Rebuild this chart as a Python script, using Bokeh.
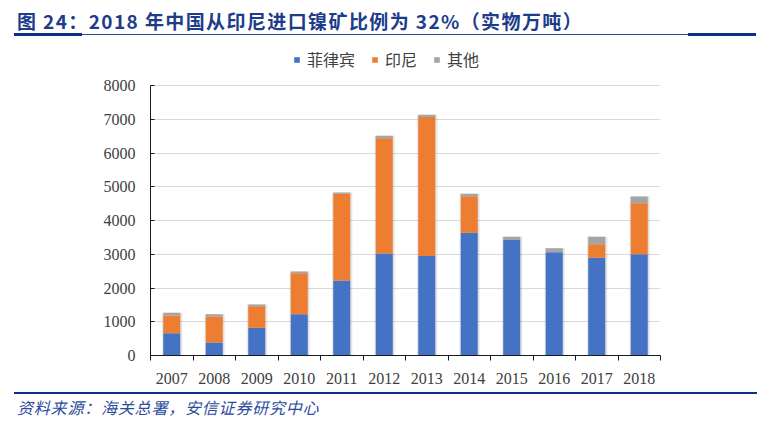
from bokeh.plotting import figure
from bokeh.layouts import column
from bokeh.models import (Range1d, LinearAxis, FixedTicker, Legend, LegendItem,
                          ColumnDataSource, Div)
from bokeh.embed import file_html
from bokeh.resources import INLINE

# Nickel ore imports into China by origin (10k tonnes, physical)
years = ["2007", "2008", "2009", "2010", "2011", "2012",
         "2013", "2014", "2015", "2016", "2017", "2018"]
philippines = [660, 385, 820, 1225, 2220, 3020, 2950, 3640, 3440, 3060, 2900, 3000]
indonesia = [525, 770, 640, 1215, 2570, 3420, 4120, 1080, 0, 0, 395, 1510]
others = [80, 70, 50, 50, 40, 70, 60, 70, 80, 120, 225, 200]
series_names = ["菲律宾", "印尼", "其他"]
y_ticks = [0, 1000, 2000, 3000, 4000, 5000, 6000, 7000, 8000]

title_text = "图 24：2018 年中国从印尼进口镍矿比例为 32%（实物万吨）"
source_text = "资料来源：海关总署，安信证券研究中心"

colors = ["#4472C4", "#ED7D31", "#A5A5A5"]
navy = "#1D3C8A"
rule = "#0E2F86"
tick_color = "#404040"

n = len(years)
centers = [i + 0.5 for i in range(n)]          # one slot per year
bounds = list(range(n + 1))                     # slot edges, used for tick marks
totals = [a + b + c for a, b, c in zip(philippines, indonesia, others)]
src = ColumnDataSource(dict(x=centers, ph=philippines, idn=indonesia, ot=others, total=totals,
                            xs1=[c + 0.012 for c in centers], xs2=[c + 0.008 for c in centers]))

# ---- heading strip -------------------------------------------------------
heading = Div(width=763, height=40, margin=(0, 0, 0, 0), text=f"""
<div style="position:relative;width:763px;height:40px;">
  <div style="position:absolute;left:17px;top:7px;white-space:nowrap;line-height:28px;letter-spacing:1.4px;
              font-family:'Noto Sans CJK SC';font-weight:bold;font-size:19px;color:{navy};">{title_text}</div>
  <div style="position:absolute;left:82px;width:606px;top:34px;height:1px;background:#2E4C8F;"></div>
  <div style="position:absolute;left:14px;width:68px;top:33px;height:3px;background:{rule};"></div>
  <div style="position:absolute;left:688px;width:68px;top:33px;height:3px;background:{rule};"></div>
</div>""")

# ---- chart ---------------------------------------------------------------
# plot frame: 307 px tall, of which the lower 270 px hold the 0-8000 scale;
# the strip above 8000 carries the legend
frame_h, scale_h = 307, 270
y_top = y_ticks[-1] * frame_h / scale_h

p = figure(width=763, height=348, output_backend="svg", toolbar_location=None,
           x_range=Range1d(0, n), y_range=Range1d(0, y_top),
           x_axis_location=None, y_axis_location=None,
           min_border_left=150, min_border_right=103, min_border_top=8, min_border_bottom=33)
p.outline_line_color = None
p.background_fill_color = "white"
p.border_fill_color = "white"

# soft drop shadow behind each stacked column
p.vbar(x="xs1", top="total", width=0.49, source=src,
       fill_color="#7f7f7f", fill_alpha=0.10, line_color=None)
p.vbar(x="xs2", top="total", width=0.45, source=src,
       fill_color="#7f7f7f", fill_alpha=0.16, line_color=None)

bars = p.vbar_stack(["ph", "idn", "ot"], x="x", width=0.4, source=src,
                    fill_color=colors, line_color=None)

# y axis with inward ticks, drawn only over 0-8000
yaxis = LinearAxis(ticker=FixedTicker(ticks=y_ticks), bounds=(y_ticks[0], y_ticks[-1]))
yaxis.axis_line_color = "#1a1a1a"
yaxis.major_tick_line_color = "#1a1a1a"
yaxis.major_tick_in = 4
yaxis.major_tick_out = 0
yaxis.minor_tick_line_color = None
yaxis.major_label_standoff = 15
yaxis.major_label_text_font = "Liberation Serif"
yaxis.major_label_text_font_size = "16px"
yaxis.major_label_text_color = tick_color
p.add_layout(yaxis, "left")

p.ygrid.ticker = FixedTicker(ticks=y_ticks)
p.ygrid.grid_line_color = "#D9D9D9"
p.xgrid.grid_line_color = None

# x axis: labels at slot centres, small marks at slot edges
xaxis = LinearAxis(ticker=FixedTicker(ticks=centers, minor_ticks=bounds),
                   major_label_overrides={c: y for c, y in zip(centers, years)})
xaxis.axis_line_color = "#1a1a1a"
xaxis.major_tick_line_color = None
xaxis.major_tick_in = 0
xaxis.major_tick_out = 0
xaxis.minor_tick_line_color = "#1a1a1a"
xaxis.minor_tick_in = 0
xaxis.minor_tick_out = 5
xaxis.major_label_standoff = 12
xaxis.major_label_text_font = "Liberation Serif"
xaxis.major_label_text_font_size = "16px"
xaxis.major_label_text_color = tick_color
p.add_layout(xaxis, "below")

legend = Legend(items=[LegendItem(label=s, renderers=[r]) for s, r in zip(series_names, bars)],
                orientation="horizontal", location=(143, 284),
                glyph_width=7, glyph_height=7, label_standoff=7, spacing=16,
                padding=0, margin=0, border_line_color=None, background_fill_alpha=0,
                label_text_font="Noto Sans CJK SC", label_text_font_size="16px",
                label_text_color=tick_color, label_height=16)
p.add_layout(legend, "center")

# ---- source line ---------------------------------------------------------
footer = Div(width=763, height=46, margin=(0, 0, 0, 0), text=f"""
<div style="position:relative;width:763px;height:46px;">
  <div style="position:absolute;left:14px;width:743px;top:4px;height:2px;background:{rule};"></div>
  <div style="position:absolute;left:17px;top:7px;white-space:nowrap;line-height:24px;letter-spacing:0.8px;
              font-family:'Noto Sans CJK SC';font-style:italic;font-size:16px;color:#2B4C9B;">{source_text}</div>
</div>""")

layout = column(heading, p, footer, spacing=0)
open("out.html", "w").write(file_html(layout, INLINE))
